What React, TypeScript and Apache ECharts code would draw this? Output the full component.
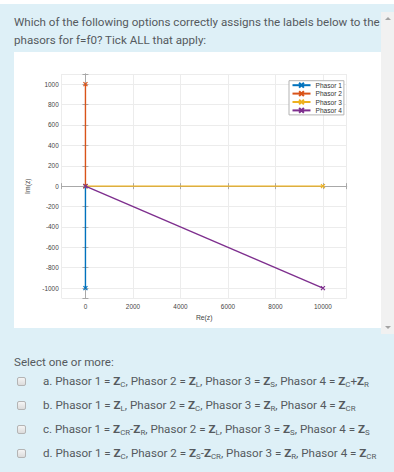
import React, { useEffect, useRef } from "react";
import * as echarts from "echarts";

// ---- data ----
const seriesNames = ["Phasor 1", "Phasor 2", "Phasor 3", "Phasor 4"];
const seriesColors = ["#0072BD", "#D95319", "#EDB120", "#7E2F8E"];
const phasorRe = [0, 0, 10000, 10000];
const phasorIm = [-1000, 1000, 0, -1000];
const xTickLabels = [0, 2000, 4000, 6000, 8000, 10000];
const yTickLabels = [-1000, -800, -600, -400, -200, 0, 200, 400, 600, 800, 1000];
const xRange = [-1000, 11000];
const yRange = [-1100, 1100];

const questionLines = [
  "Which of the following options correctly assigns the labels below to the",
  "phasors for f=f0? Tick ALL that apply:",
];
const promptText = "Select one or more:";
const optionLetters = ["a.", "b.", "c.", "d."];
const optionA = ["Z_C", "Z_L", "Z_S", "Z_C+Z_R"];
const optionB = ["Z_L", "Z_C", "Z_R", "Z_CR"];
const optionC = ["Z_CR-Z_R", "Z_L", "Z_S", "Z_S"];
const optionD = ["Z_C", "Z_S-Z_CR", "Z_R", "Z_CR"];
const options = [optionA, optionB, optionC, optionD];

const BLUE = "#def0f7";
const TEXT = "#555a5e";

const X_MARK = "path://M0,0L10,10M10,0L0,10";

function Expr({ s }: { s: string }) {
  const parts = s.split(/(Z_[A-Za-z]+)/).filter((p) => p.length > 0);
  return (
    <>
      {parts.map((p, i) =>
        p.startsWith("Z_") ? (
          <span key={i}>
            <b>Z</b>
            <sub style={{ fontSize: "0.68em", verticalAlign: "-0.3em", lineHeight: 0 }}>{p.slice(2)}</sub>
          </span>
        ) : (
          <span key={i}>{p}</span>
        )
      )}
    </>
  );
}

export default function App() {
  const ref = useRef<HTMLDivElement>(null);
  useEffect(() => {
    const chart = echarts.init(ref.current!, null, { renderer: "svg" });
    const axisLine = { show: true, lineStyle: { color: "#a8a8a8", width: 1 } };
    const axisTick = { show: true, inside: true, length: 3, lineStyle: { color: "#a8a8a8" } };
    const font = "'Liberation Sans', Arial, sans-serif";
    chart.setOption({
      animation: false,
      textStyle: { fontFamily: font },
      grid: { left: 47.7, right: 34.3, top: 22, bottom: 29.7, containLabel: false },
      legend: {
        orient: "vertical",
        left: 275,
        top: 28.7,
        itemWidth: 18,
        itemHeight: 6,
        itemGap: 1.4,
        padding: [1, 2, 1, 2.5],
        borderColor: "#b3b3b3",
        borderWidth: 1,
        backgroundColor: "#ffffff",
        textStyle: { fontSize: 6.6, color: "#333", fontFamily: font },
        data: seriesNames,
      },
      xAxis: [
        {
          type: "value",
          min: xRange[0],
          max: xRange[1],
          splitNumber: 6,
          minInterval: 2000,
          maxInterval: 2000,
          name: "Re(z)",
          nameLocation: "middle",
          nameGap: 12,
          nameTextStyle: { fontSize: 6.8, color: "#444", fontFamily: font },
          axisLine,
          axisTick,
          axisLabel: {
            fontSize: 6.4,
            color: "#444",
            margin: 5,
            formatter: (v: number) => (xTickLabels.includes(v) ? String(v) : ""),
          },
          splitLine: { show: true, lineStyle: { color: "#ececec", width: 1 } },
        },
        {
          type: "value",
          position: "top",
          min: xRange[0],
          max: xRange[1],
          splitNumber: 6,
          minInterval: 2000,
          maxInterval: 2000,
          axisLine,
          axisTick,
          axisLabel: { show: false },
          splitLine: { show: false },
        },
      ],
      yAxis: [
        {
          type: "value",
          min: yRange[0],
          max: yRange[1],
          splitNumber: 11,
          minInterval: 200,
          maxInterval: 200,
          name: "Im(z)",
          nameLocation: "middle",
          nameGap: 24,
          nameTextStyle: { fontSize: 6.8, color: "#444", fontFamily: font },
          axisLine,
          axisTick,
          axisLabel: {
            fontSize: 6.4,
            color: "#444",
            margin: 3,
            formatter: (v: number) => (yTickLabels.includes(v) ? String(v) : ""),
          },
          splitLine: { show: true, lineStyle: { color: "#ececec", width: 1 } },
        },
        {
          type: "value",
          position: "right",
          min: yRange[0],
          max: yRange[1],
          splitNumber: 11,
          minInterval: 200,
          maxInterval: 200,
          axisLine,
          axisTick,
          axisLabel: { show: false },
          splitLine: { show: false },
        },
      ],
      series: seriesNames.map((name, i) => ({
        name,
        type: "line",
        xAxisIndex: 0,
        yAxisIndex: 0,
        data: [
          [0, 0],
          [phasorRe[i], phasorIm[i]],
        ],
        symbol: X_MARK,
        symbolSize: 4,
        showSymbol: true,
        lineStyle: { color: seriesColors[i], width: 1.4 },
        itemStyle: { color: seriesColors[i], borderColor: seriesColors[i], borderWidth: 1.2 },
        z: 2 + i,
      })),
    });
    return () => chart.dispose();
  }, []);

  const tri = (up: boolean) => ({
    width: 0,
    height: 0,
    borderLeft: "3px solid transparent",
    borderRight: "3px solid transparent",
    [up ? "borderBottom" : "borderTop"]: "3px solid #a3a3a3",
  });

  return (
    <div
      style={{
        position: "fixed",
        left: 0,
        top: 0,
        width: 394,
        height: 472,
        background: "#ffffff",
        overflow: "hidden",
        fontFamily: "Roboto, 'Noto Sans', sans-serif",
        color: TEXT,
      }}
    >
      <div style={{ position: "absolute", left: 0, top: 4, width: 394, height: 468, background: BLUE }} />
      {/* scrollbar */}
      <div style={{ position: "absolute", left: 381, top: 12, width: 13, height: 322, background: "#f1f1f1" }} />
      <div style={{ position: "absolute", left: 385, top: 17, ...tri(true) }} />
      <div style={{ position: "absolute", left: 385, top: 326, ...tri(false) }} />
      {/* question */}
      {questionLines.map((t, i) => (
        <div
          key={i}
          style={{
            position: "absolute",
            left: 14,
            top: 22 + i * 18 - 9,
            height: 18,
            lineHeight: "18px",
            fontSize: 11.6,
            whiteSpace: "nowrap",
          }}
        >
          {t}
        </div>
      ))}
      {/* chart box */}
      <div ref={ref} style={{ position: "absolute", left: 14, top: 52, width: 367, height: 276, background: "#ffffff" }} />
      {/* prompt */}
      <div
        style={{
          position: "absolute",
          left: 14,
          top: 362 - 9,
          height: 18,
          lineHeight: "18px",
          fontSize: 11.6,
          whiteSpace: "nowrap",
        }}
      >
        {promptText}
      </div>
      {options.map((opt, k) => (
        <div key={k}>
          <div
            style={{
              position: "absolute",
              left: 17,
              top: 381 + k * 24 - 4,
              width: 7,
              height: 7,
              border: "1px solid #b4b4b4",
              borderRadius: 2,
              background: "linear-gradient(#f4f4f4, #dcdcdc)",
            }}
          />
          <div
            style={{
              position: "absolute",
              left: 43,
              top: 381 + k * 24 - 9,
              height: 18,
              lineHeight: "18px",
              fontSize: 11.6,
              whiteSpace: "nowrap",
            }}
          >
            {optionLetters[k]}{" "}
            {opt.map((e, j) => (
              <span key={j}>
                {`Phasor ${j + 1} = `}
                <Expr s={e} />
                {j < opt.length - 1 ? ", " : ""}
              </span>
            ))}
          </div>
        </div>
      ))}
    </div>
  );
}
